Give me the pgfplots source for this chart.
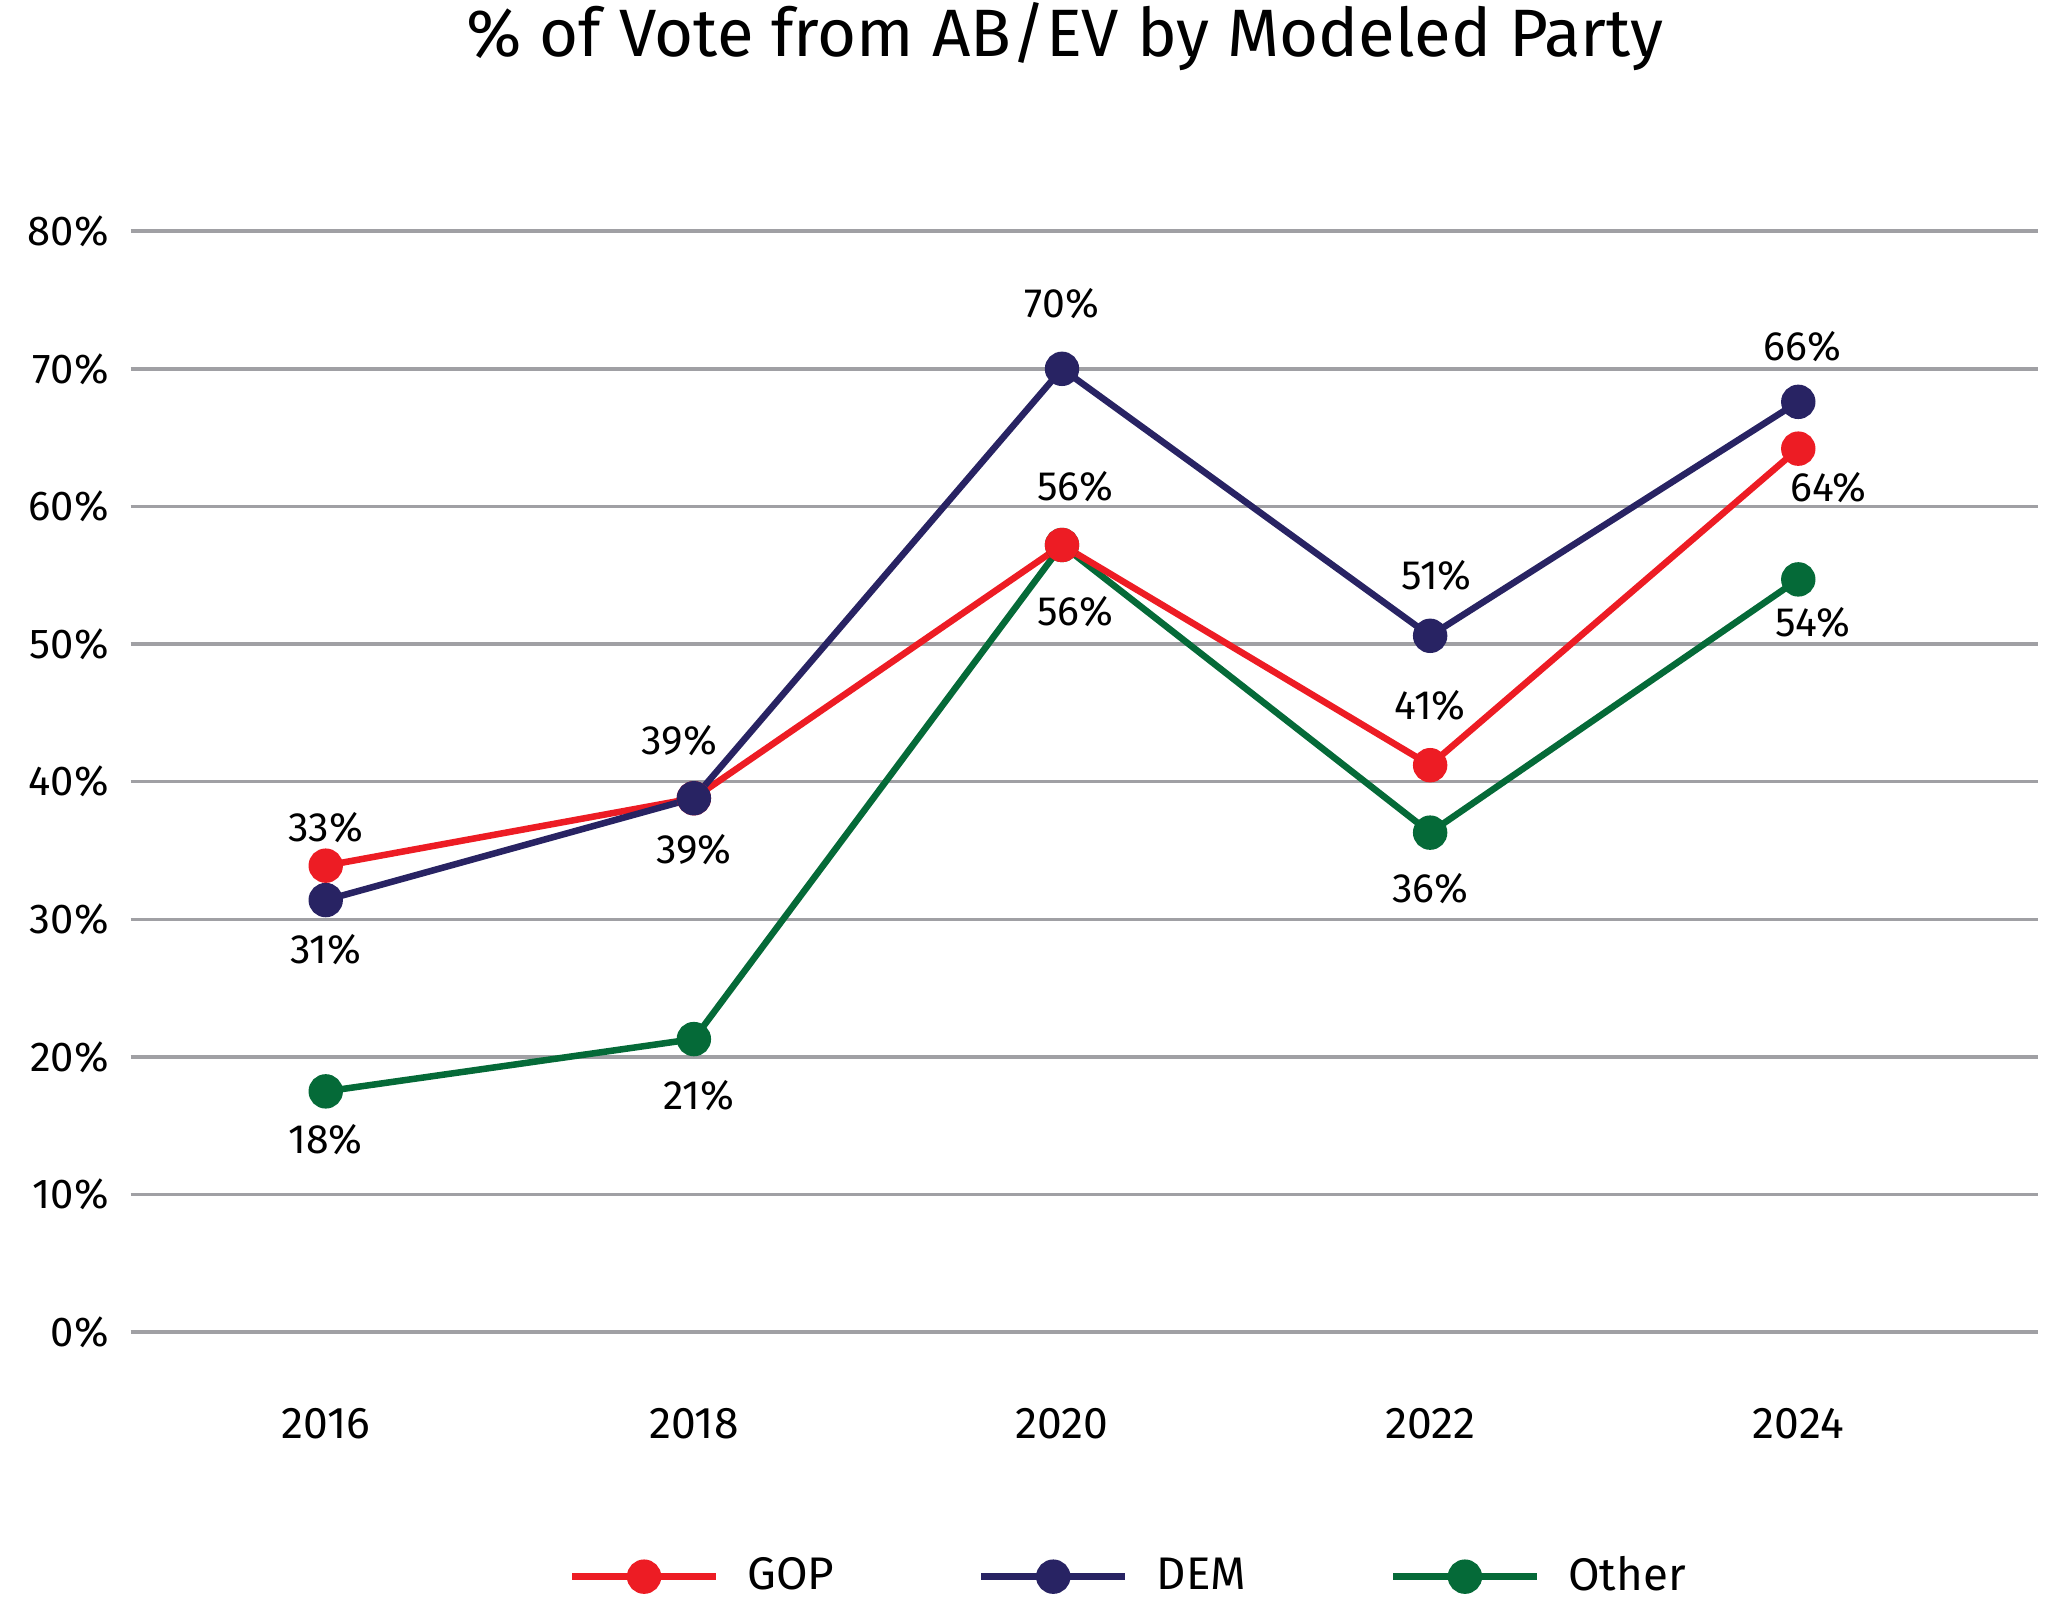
\documentclass[border=0pt]{standalone}
\usepackage{pgfplots}
\pgfplotsset{compat=1.18}
\usepackage{pgfplotstable}
\usepackage{fontspec}
\setmainfont{Fira Sans}

\definecolor{gop}{RGB}{237,28,36}
\definecolor{dem}{RGB}{40,35,99}
\definecolor{oth}{RGB}{5,106,56}
\definecolor{gridgray}{RGB}{160,160,164}

% x, value, label text, label offsets (pt)
\pgfplotstableread{
x    y    lbl dx   dy
2016 33.9 33  0    8.7
2018 38.8 39  -3.3 13.2
2020 57.2 56  3.0  13.5
2022 41.2 41  0    13.8
2024 64.2 64  6.9  -9.0
}\gop
\pgfplotstableread{
x    y    lbl dx   dy
2016 31.4 31  0    -11.4
2018 38.8 39  0    -11.7
2020 70.0 70  0    15.0
2022 50.6 51  1.5  13.8
2024 67.6 66  0.9  12.6
}\dem
\pgfplotstableread{
x    y    lbl dx   dy
2016 17.5 18  0    -11.1
2018 21.3 21  1.2  -12.9
2020 57.2 56  3.0  -15.3
2022 36.3 36  0    -12.9
2024 54.7 54  3.3  -9.9
}\oth

\pgfplotsset{
  series/.style={line width=1.5pt, color=#1, mark=*, mark size=3.2pt,
    mark options={solid, fill=#1, draw=#1}},
  labelled/.style={
    point meta=explicit symbolic,
    visualization depends on={\thisrow{dx}\as\dx},
    visualization depends on={\thisrow{dy}\as\dy},
    nodes near coords={\pgfplotspointmeta\%},
    every node near coord/.append style={anchor=center, xshift=\dx pt, yshift=\dy pt,
      text=black, font=\fontsize{9.4}{11}\selectfont},
  },
}

\begin{document}
\begin{tikzpicture}
\useasboundingbox (0,0) rectangle (470.4pt,368.4pt);
\begin{axis}[
    at={(30pt,62.4pt)}, anchor=south west,
    scale only axis,
    width=438pt, height=252.9pt,
    xmin=2014.94, xmax=2025.3,
    ymin=0, ymax=80,
    enlargelimits=false,
    axis line style={draw=none},
    tick style={draw=none},
    major tick length=0pt,
    ymajorgrids,
    major grid style={gridgray, line width=0.8pt},
    xtick={2016,2018,2020,2022,2024},
    xticklabels={2016,2018,2020,2022,2024},
    ytick={0,10,...,80},
    yticklabels={0\%,10\%,20\%,30\%,40\%,50\%,60\%,70\%,80\%},
    xticklabel style={font=\fontsize{10.2}{12}\selectfont, yshift=-14pt},
    yticklabel style={font=\fontsize{9.6}{11}\selectfont, xshift=-1.5pt},
    title={\% of Vote from AB/EV by Modeled Party},
    title style={at={(0.49,1)}, anchor=center, yshift=38.7pt,
      font=\fontsize{15.4}{18}\selectfont},
    legend columns=3,
    legend style={at={(0.525,-0.222)}, anchor=center, draw=none,
      font=\fontsize{10.5}{12}\selectfont,
      /tikz/every odd column/.append style={column sep=4.5pt},
      /tikz/every even column/.append style={column sep=31pt}},
    legend image code/.code={
      \draw[#1, mark repeat=2, mark phase=2]
        plot coordinates {(0pt,0pt) (16.5pt,0pt) (33pt,0pt)};},
]
\addplot[series=oth, labelled, forget plot] table[x=x, y=y, meta=lbl] {\oth};
\addplot[series=gop, labelled, forget plot] table[x=x, y=y, meta=lbl] {\gop};
\addplot[series=dem, labelled, forget plot] table[x=x, y=y, meta=lbl] {\dem};
\addlegendimage{series=gop}
\addlegendimage{series=dem}
\addlegendimage{series=oth}
\legend{GOP, DEM, Other}
\end{axis}
\end{tikzpicture}
\end{document}
